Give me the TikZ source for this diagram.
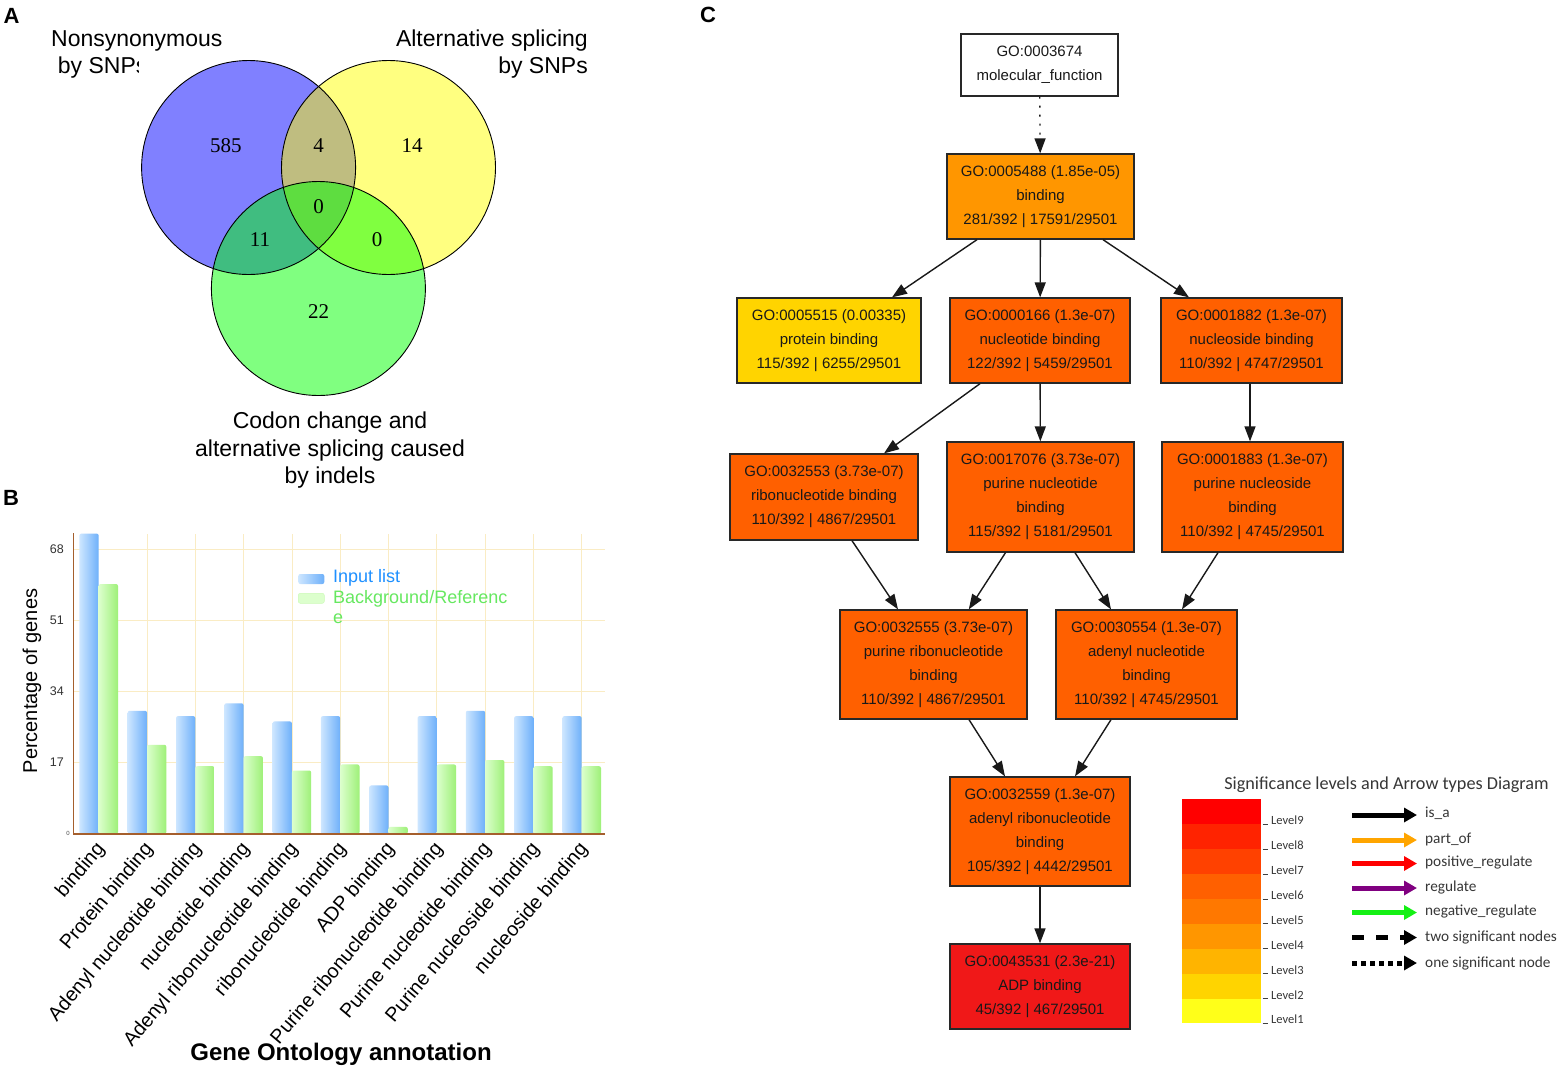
\documentclass[tikz,border=0pt]{standalone}
\usepackage{fontspec}
\setmainfont{Liberation Sans}
\newfontfamily\vennserif{Liberation Serif}
\newfontfamily\carlitofont{Carlito}
\usetikzlibrary{arrows.meta,calc}
\definecolor{vblue}{RGB}{128,128,255}
\definecolor{vyel}{RGB}{255,255,128}
\definecolor{vgreen}{RGB}{128,255,128}
\definecolor{vby}{RGB}{191,189,128}
\definecolor{vbg}{RGB}{64,189,128}
\definecolor{vyg}{RGB}{128,255,64}
\definecolor{vall}{RGB}{94,221,64}
\definecolor{gridc}{RGB}{250,236,196}
\definecolor{axisc}{RGB}{165,95,45}
\definecolor{bluelt}{RGB}{205,230,255}
\definecolor{bluemd}{RGB}{125,188,252}
\definecolor{bluedk}{RGB}{110,176,250}
\definecolor{greenlt}{RGB}{220,255,205}
\definecolor{greenmd}{RGB}{170,246,135}
\definecolor{greendk}{RGB}{158,240,120}
\definecolor{inputc}{RGB}{30,144,255}
\definecolor{bgc}{RGB}{102,232,96}
\definecolor{lv9}{RGB}{255,0,0}
\definecolor{lv8}{RGB}{255,35,0}
\definecolor{lv7}{RGB}{255,65,0}
\definecolor{lv6}{RGB}{255,96,0}
\definecolor{lv5}{RGB}{255,120,0}
\definecolor{lv4}{RGB}{255,150,0}
\definecolor{lv3}{RGB}{255,180,0}
\definecolor{lv2}{RGB}{255,212,0}
\definecolor{lv1}{RGB}{255,255,25}
\definecolor{adpred}{RGB}{240,24,24}
\definecolor{boxline}{RGB}{40,40,40}
\definecolor{boxtext}{RGB}{25,25,25}
\definecolor{legtext}{RGB}{55,55,55}
\definecolor{partof}{RGB}{255,165,0}
\definecolor{regc}{RGB}{128,0,128}
\definecolor{negc}{RGB}{20,240,20}
\tikzset{
  panel/.style={font=\fontsize{22}{22}\selectfont\bfseries, inner sep=0pt},
  vennlabel/.style={font=\fontsize{23}{28}\selectfont, inner sep=0pt},
  vennnum/.style={font=\vennserif\fontsize{21}{21}\selectfont, inner sep=0pt},
  vennline/.style={draw=black, line width=0.9pt},
  gridline/.style={draw=gridc, line width=0.8pt},
  axisline/.style={draw=axisc, line width=1.2pt},
  bluebar/.style={left color=bluelt, middle color=bluemd, right color=bluedk, rounded corners=2pt},
  greenbar/.style={left color=greenlt, middle color=greenmd, right color=greendk, rounded corners=2pt},
  ticklabel/.style={font=\fontsize{12.5}{12.5}\selectfont, text=black!80, inner sep=0pt, anchor=east},
  catlabel/.style={font=\fontsize{19.8}{19.8}\selectfont, rotate=50, anchor=east, inner sep=0pt},
  gobox/.style={draw=boxline, line width=1.3pt, align=center, inner sep=0pt,
     font=\fontsize{15}{24}\selectfont, text=boxtext},
  goarrow/.style={draw=black!90, line width=1.4pt, -{Triangle[length=15pt,width=11pt]}},
  legarrow/.style={line width=5pt, -{Triangle[length=13pt,width=14pt]}},
  legtxt/.style={font=\carlitofont\fontsize{15.3}{15.3}\selectfont, text=legtext, anchor=west, inner sep=0pt},
  lvtxt/.style={font=\carlitofont\fontsize{12.5}{12.5}\selectfont, text=legtext, anchor=base west, inner sep=0pt}
}
\begin{document}
\begin{tikzpicture}[x=1pt,y=-1pt]
\useasboundingbox (0,0) rectangle (1559,1069);
\fill[white] (0,0) rectangle (1559,1069);

% ---------------- Panel letters
\node[panel] (pA) at (11.5,16) {A};
\node[panel] (pB) at (11,498) {B};
\node[panel] (pC) at (708,15) {C};

% ---------------- Panel A: Venn
\coordinate (cb) at (248.6,167.5);
\coordinate (cy) at (388.5,167.5);
\coordinate (cg) at (318.4,288.5);
\fill[vblue] (cb) circle[radius=107pt];
\fill[vyel] (cy) circle[radius=107pt];
\fill[vgreen] (cg) circle[radius=107pt];
\begin{scope}\clip (cb) circle[radius=107pt]; \fill[vby] (cy) circle[radius=107pt];\end{scope}
\begin{scope}\clip (cb) circle[radius=107pt]; \fill[vbg] (cg) circle[radius=107pt];\end{scope}
\begin{scope}\clip (cy) circle[radius=107pt]; \fill[vyg] (cg) circle[radius=107pt];\end{scope}
\begin{scope}\clip (cb) circle[radius=107pt]; \clip (cy) circle[radius=107pt]; \fill[vall] (cg) circle[radius=107pt];\end{scope}
\draw[vennline] (cb) circle[radius=107pt];
\draw[vennline] (cy) circle[radius=107pt];
\draw[vennline] (cg) circle[radius=107pt];

\node[vennnum] (n585) at (225.8,145.7) {585};
\node[vennnum] (n4) at (318.5,145.7) {4};
\node[vennnum] (n14) at (412,145.7) {14};
\node[vennnum] (n0c) at (318.5,207) {0};
\node[vennnum] (n11) at (260,240) {11};
\node[vennnum] (n0r) at (377,240) {0};
\node[vennnum] (n22) at (318.5,312) {22};

\node[vennlabel, anchor=base west] (l1a) at (51,46.7) {Nonsynonymous};
\begin{scope}
\clip (40,50) rectangle (138,85);
\node[vennlabel, anchor=base west] (l1b) at (57.7,73.3) {by SNPs};
\end{scope}
\node[vennlabel, anchor=base east] (l2a) at (588,46.7) {Alternative splicing};
\node[vennlabel, anchor=base east] (l2b) at (588,73.3) {by SNPs};
\node[vennlabel, anchor=base] (l3a) at (330,428.3) {Codon change and};
\node[vennlabel, anchor=base] (l3b) at (330,456) {alternative splicing caused};
\node[vennlabel, anchor=base] (l3c) at (330,483.5) {by indels};

% ---------------- Panel B: bar chart
\foreach \v in {68,51,34,17}{
  \draw[gridline] (74,{833.5-4.184*\v}) -- (605,{833.5-4.184*\v});
}
\foreach \i in {1,...,10}{
  \draw[gridline] ({98.7+48.3*\i},534) -- ({98.7+48.3*\i},833.5);
}
\foreach \i/\b/\g in {0/71.68/59.63, 1/29.34/21.20, 2/28.06/16.08, 3/31.12/18.50, 4/26.79/15.06, 5/28.06/16.50, 6/11.48/1.58, 7/28.06/16.50, 8/29.34/17.56, 9/28.06/16.08, 10/28.06/16.09}{
  \pgfmathsetmacro\xl{79.4+48.3*\i}
  \pgfmathsetmacro\xm{\xl+19.3}
  \pgfmathsetmacro\xr{\xl+38.6}
  \pgfmathsetmacro\yb{833.5-4.184*\b}
  \pgfmathsetmacro\yg{833.5-4.184*\g}
  \shade[bluebar] (\xl,834) rectangle (\xm,\yb);
  \shade[greenbar] (\xm,834) rectangle (\xr,\yg);
}
\draw[axisline] (73.5,533) -- (73.5,834) -- (605,834);
\foreach \v in {68,51,34,17}{
  \node[ticklabel] (tk\v) at (64,{833.5-4.184*\v}) {\v};
}
\node[font=\fontsize{6}{6}\selectfont, text=black!70, inner sep=0pt] (tk0) at (68,833) {0};

\foreach \i/\t in {0/binding, 1/Protein binding, 2/Adenyl nucleotide binding, 3/nucleotide binding, 4/Adenyl ribonucleotide binding, 5/ribonucleotide binding, 6/ADP binding, 7/Purine ribonucleotide binding, 8/Purine nucleotide binding, 9/Purine nucleoside binding, 10/nucleoside binding}{
  \node[catlabel] (cat\i) at ({101.5+48.3*\i},846) {\t};
}
\node[font=\fontsize{20}{20}\selectfont, rotate=90, inner sep=0pt] (ylab) at (32,681) {Percentage of genes};
\node[font=\fontsize{24}{24}\selectfont\bfseries, inner sep=0pt] (xlab) at (341,1054) {Gene Ontology annotation};

\shade[left color=bluelt, right color=bluedk, rounded corners=2pt] (298.3,574) rectangle (324.3,584);
\filldraw[fill=greenlt, draw=greenmd!60, rounded corners=2pt] (298.3,593.3) rectangle (324.3,603.3);
\node[font=\fontsize{18}{18}\selectfont, text=inputc, anchor=west, inner sep=0pt] (leg1) at (333,578) {Input list};
\node[font=\fontsize{18}{18}\selectfont, text=bgc, anchor=west, inner sep=0pt] (leg2) at (333,599) {Background/Referenc};
\node[font=\fontsize{18}{18}\selectfont, text=bgc, anchor=west, inner sep=0pt] (leg3) at (333,619) {e};

% ---------------- Panel C: GO graph
\node[gobox, fill=white, minimum width=157pt, minimum height=62pt] (root) at (1039.5,65) {GO:0003674\\molecular\_function};
\node[gobox, fill=lv4, minimum width=187pt, minimum height=85pt] (binding) at (1040.5,196.5) {GO:0005488 (1.85e-05)\\binding\\281/392 | 17591/29501};
\node[gobox, fill=lv2, minimum width=184pt, minimum height=85pt] (protein) at (829,340.5) {GO:0005515 (0.00335)\\protein binding\\115/392 | 6255/29501};
\node[gobox, fill=lv6, minimum width=180pt, minimum height=85pt] (nucleotide) at (1040,340.5) {GO:0000166 (1.3e-07)\\nucleotide binding\\122/392 | 5459/29501};
\node[gobox, fill=lv6, minimum width=181pt, minimum height=85pt] (nucleoside) at (1251.5,340.5) {GO:0001882 (1.3e-07)\\nucleoside binding\\110/392 | 4747/29501};
\node[gobox, fill=lv6, minimum width=188pt, minimum height=86pt] (ribonuc) at (824,497) {GO:0032553 (3.73e-07)\\ribonucleotide binding\\110/392 | 4867/29501};
\node[gobox, fill=lv6, minimum width=187pt, minimum height=110pt] (purnuc) at (1040.5,497) {GO:0017076 (3.73e-07)\\purine nucleotide\\binding\\115/392 | 5181/29501};
\node[gobox, fill=lv6, minimum width=181pt, minimum height=110pt] (purnucside) at (1252.5,497) {GO:0001883 (1.3e-07)\\purine nucleoside\\binding\\110/392 | 4745/29501};
\node[gobox, fill=lv6, minimum width=187pt, minimum height=109pt] (purribo) at (933.5,664.5) {GO:0032555 (3.73e-07)\\purine ribonucleotide\\binding\\110/392 | 4867/29501};
\node[gobox, fill=lv6, minimum width=181pt, minimum height=109pt] (adenylnuc) at (1146.5,664.5) {GO:0030554 (1.3e-07)\\adenyl nucleotide\\binding\\110/392 | 4745/29501};
\node[gobox, fill=lv6, minimum width=180pt, minimum height=109pt] (adenylribo) at (1040,831.5) {GO:0032559 (1.3e-07)\\adenyl ribonucleotide\\binding\\105/392 | 4442/29501};
\node[gobox, fill=adpred, minimum width=180pt, minimum height=85pt] (adp) at (1040,986.5) {GO:0043531 (2.3e-21)\\ADP binding\\45/392 | 467/29501};

\draw[goarrow, dash pattern=on 2pt off 7pt] (root) -- (binding);
\draw[goarrow] ($(binding.south)+(-63.5,0)$) -- ($(protein.north)+(63,0)$);
\draw[goarrow] (binding) -- (nucleotide);
\draw[goarrow] ($(binding.south)+(62.5,0)$) -- ($(nucleoside.north)+(-62.5,0)$);
\draw[goarrow] ($(nucleotide.south)+(-60,0)$) -- ($(ribonuc.north)+(60,0)$);
\draw[goarrow] (nucleotide) -- (purnuc);
\draw[goarrow] ($(nucleoside.south)+(-1.5,0)$) -- ($(purnucside.north)+(-2.5,0)$);
\draw[goarrow] ($(ribonuc.south)+(28,0)$) -- ($(purribo.north)+(-35.5,0)$);
\draw[goarrow] ($(purnuc.south)+(-35,0)$) -- ($(purribo.north)+(35.3,0)$);
\draw[goarrow] ($(purnuc.south)+(34.5,0)$) -- ($(adenylnuc.north)+(-35.5,0)$);
\draw[goarrow] ($(purnucside.south)+(-34.5,0)$) -- ($(adenylnuc.north)+(35.5,0)$);
\draw[goarrow] ($(purribo.south)+(35.5,0)$) -- ($(adenylribo.north)+(-35,0)$);
\draw[goarrow] ($(adenylnuc.south)+(-35.5,0)$) -- ($(adenylribo.north)+(35,0)$);
\draw[goarrow] (adenylribo) -- (adp);

% ---------------- Legend of panel C
\node[font=\carlitofont\fontsize{18.2}{18.2}\selectfont, text=legtext, inner sep=0pt] (legtitle) at (1386.5,785) {Significance levels and Arrow types Diagram};
\foreach \j/\c/\n in {0/lv9/9, 1/lv8/8, 2/lv7/7, 3/lv6/6, 4/lv5/5, 5/lv4/4, 6/lv3/3, 7/lv2/2, 8/lv1/1}{
  \pgfmathsetmacro\yt{799.3+24.9*\j}
  \pgfmathsetmacro\ybt{799.3+24.9*(\j+1)}
  \fill[\c] (1181.7,\yt) rectangle (1261,\ybt);
  \draw[black!75, line width=0.8pt] (1262.5,\ybt) -- (1267.5,\ybt);
  \node[lvtxt] (lv\n) at (1271,\ybt+0.5) {Level\n};
}
\coordinate (a1s) at (1352,815);   \coordinate (a1e) at (1417,815);
\coordinate (a2s) at (1352,840);   \coordinate (a2e) at (1417,840);
\coordinate (a3s) at (1352,863.5); \coordinate (a3e) at (1417,863.5);
\coordinate (a4s) at (1352,888);   \coordinate (a4e) at (1417,888);
\coordinate (a5s) at (1352,912.5); \coordinate (a5e) at (1417,912.5);
\coordinate (a6s) at (1352,937.5); \coordinate (a6e) at (1417,937.5);
\coordinate (a7s) at (1352,963);   \coordinate (a7e) at (1417,963);
\draw[legarrow, black] (a1s) -- (a1e);
\draw[legarrow, partof] (a2s) -- (a2e);
\draw[legarrow, red] (a3s) -- (a3e);
\draw[legarrow, regc] (a4s) -- (a4e);
\draw[legarrow, negc] (a5s) -- (a5e);
\draw[legarrow, black, dash pattern=on 12pt off 12pt] (a6s) -- (a6e);
\draw[legarrow, black, dash pattern=on 5pt off 4pt] (a7s) -- (a7e);
\node[legtxt] (t1) at (1425,813) {is\_a};
\node[legtxt] (t2) at (1425,839) {part\_of};
\node[legtxt] (t3) at (1425,862.5) {positive\_regulate};
\node[legtxt] (t4) at (1425,887) {regulate};
\node[legtxt] (t5) at (1425,911.5) {negative\_regulate};
\node[legtxt] (t6) at (1425,937.5) {two significant nodes};
\node[legtxt] (t7) at (1425,963) {one significant node};
\end{tikzpicture}
\end{document}
